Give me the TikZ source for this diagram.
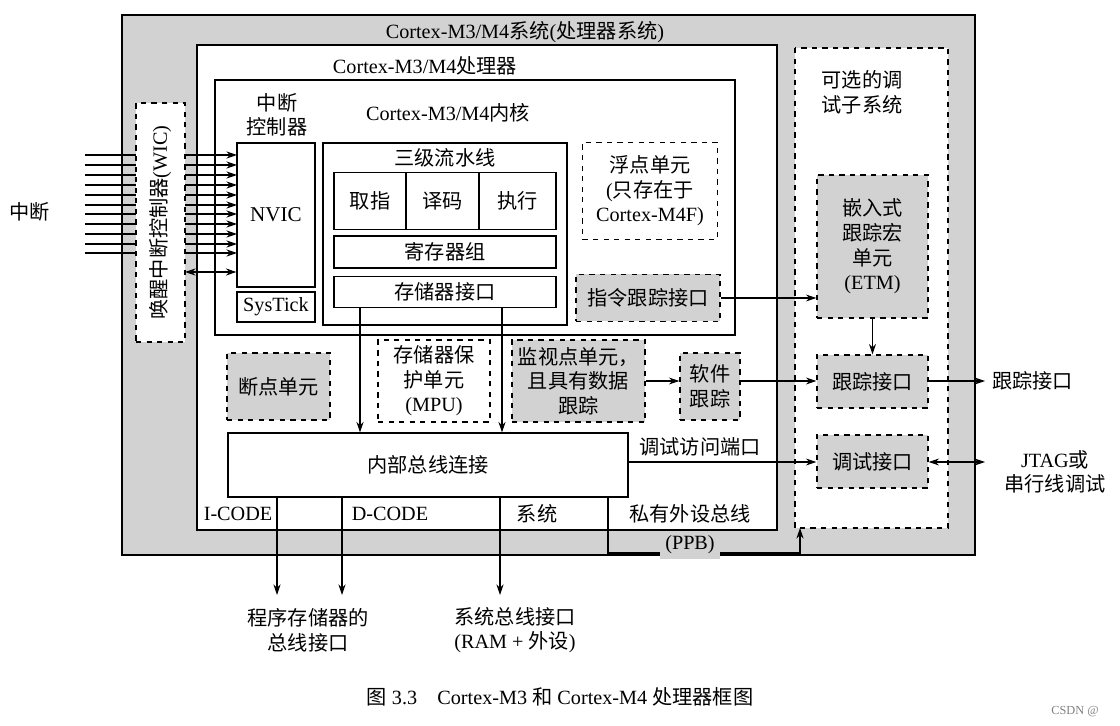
\documentclass[tikz,border=0pt]{standalone}
\usepackage{fontspec}
\setmainfont{Liberation Serif}
\newfontfamily\cjk{Noto Sans CJK SC}
\newcommand{\zh}[1]{{\cjk #1}}
\usetikzlibrary{arrows.meta}
\begin{document}
\begin{tikzpicture}[x=0.02cm,y=-0.02cm,
  every node/.style={font=\fontsize{11.5}{14}\selectfont, align=center, inner sep=1pt},
  bx/.style={draw, line width=0.6pt, fill=white},
  gbx/.style={draw, dashed, line width=0.7pt, fill=gray!35},
  wbx/.style={draw, dashed, line width=0.7pt, fill=white},
  arr/.style={-{Stealth[length=6pt,width=4pt]}, line width=0.6pt},
  darr/.style={{Stealth[length=6pt,width=4pt]}-{Stealth[length=6pt,width=4pt]}, line width=0.6pt}]
\useasboundingbox (0,0) rectangle (1120,726);
% outer
\draw[fill=gray!35, line width=0.6pt] (122,15) rectangle (975,555);
\node (systitle) at (525,32) {Cortex-M3/M4\zh{系统}(\zh{处理器系统})};
% processor
\draw[fill=white, line width=1.4pt] (197,45) rectangle (777,530);
\node (proctitle) at (425,66) {Cortex-M3/M4\zh{处理器}};
% debug subsystem
\draw[wbx] (795,48) rectangle (948,528);
\node (dbgtitle) at (862,92) {\zh{可选的调}\\\zh{试子系统}};
% core
\draw[bx] (215,80) rectangle (735,335);
\node (coretitle) at (448,113) {Cortex-M3/M4\zh{内核}};
\node (ictitle) at (277,115) {\zh{中断}\\\zh{控制器}};
\node[bx, minimum width=78*0.02cm, minimum height=144*0.02cm] (nvic) at (276,215) {\large NVIC};
\node[bx, minimum width=78*0.02cm, minimum height=30*0.02cm] (systick) at (276,307) {SysTick};
\draw[bx] (323,143) rectangle (567,325);
\node (pipe) at (445,158) {\zh{三级流水线}};
\node[bx, minimum width=72*0.02cm, minimum height=57*0.02cm] (fetch) at (370,201) {\zh{取指}};
\node[bx, minimum width=73*0.02cm, minimum height=57*0.02cm] (decode) at (442.5,201) {\zh{译码}};
\node[bx, minimum width=77*0.02cm, minimum height=57*0.02cm] (exec) at (517.5,201) {\zh{执行}};
\node[bx, minimum width=222*0.02cm, minimum height=32*0.02cm] (regs) at (445,252) {\zh{寄存器组}};
\node[bx, minimum width=222*0.02cm, minimum height=31*0.02cm] (memif) at (445,292) {\zh{存储器接口}};
\node[wbx, minimum width=135*0.02cm, minimum height=97*0.02cm] (fpu) at (650,191) {\zh{浮点单元}\\(\zh{只存在于}\\Cortex-M4F)};
\node[gbx, minimum width=144*0.02cm, minimum height=47*0.02cm] (itm) at (648,298) {\zh{指令跟踪接口}};
% interrupts
\foreach \y in {155,165,175,185,195,205,214,224,234,244,253}
  \draw[arr] (85,\y) -- (237,\y);
\node (irq) at (30,212) {\zh{中断}};
\node[wbx, minimum width=49*0.02cm, minimum height=239*0.02cm] (wic) at (160.5,222.5) {};
\node[rotate=90] (wictext) at (160.5,222.5) {\zh{唤醒中断控制器}(WIC)};
\coordinate (wicr) at (185,272);
\draw[darr] (wicr) -- (nvic.west |- wicr);
% middle row
\node[gbx, minimum width=103*0.02cm, minimum height=67*0.02cm] (bkpt) at (278.5,386.5) {\zh{断点单元}};
\node[wbx, minimum width=112*0.02cm, minimum height=82*0.02cm] (mpu) at (434,381) {\zh{存储器保}\\\zh{护单元}\\(MPU)};
\node[gbx, minimum width=133*0.02cm, minimum height=82*0.02cm] (dwt) at (578.5,381) {\zh{监视点单元}\zh{，}\\\zh{且具有数据}\\\zh{跟踪}};
\node[gbx, minimum width=60*0.02cm, minimum height=67*0.02cm] (swt) at (710,386.5) {\zh{软件}\\\zh{跟踪}};
% bus
\node[bx, minimum width=400*0.02cm, minimum height=64*0.02cm] (bus) at (428,465) {\zh{内部总线连接}};
\draw[arr] (memif.south -| 360,0) -- (bus.north -| 360,0);
\draw[arr] (memif.south -| 502,0) -- (bus.north -| 502,0);
\node (dap) at (700,447) {\zh{调试访问端口}};
% bottom labels
\foreach \x in {277,342,500,608} \draw[line width=0.6pt] (\x,497) -- (\x,530);
\node (icode) at (238,514) {I-CODE};
\node (dcode) at (390,514) {D-CODE};
\node (sysl) at (537,514) {\zh{系统}};
\node (ppbl) at (690,514) {\zh{私有外设总线}};
\coordinate (ia) at (277,595); \coordinate (da) at (342,595); \coordinate (sa) at (500,595);
\draw[arr] (277,497) -- (ia);
\draw[arr] (342,497) -- (da);
\draw[arr] (500,497) -- (sa);
\node (pmem) at (308,630) {\zh{程序存储器的}\\\zh{总线接口}};
\node (sbus) at (515,630) {\zh{系统总线接口}\\(RAM + \zh{外设})};
% PPB
\draw[arr] (608,530) -- (608,553) -- (800,553) -- (800,528);
\node[fill=gray!35, inner sep=3pt] (ppb) at (690,545) {(PPB)};
% debug subsystem parts
\node[gbx, minimum width=111*0.02cm, minimum height=143*0.02cm] (etm) at (872.5,246.5) {\zh{嵌入式}\\\zh{跟踪宏}\\\zh{单元}\\(ETM)};
\node[gbx, minimum width=111*0.02cm, minimum height=53*0.02cm] (tpiu) at (872.5,381.5) {\zh{跟踪接口}};
\node[gbx, minimum width=111*0.02cm, minimum height=53*0.02cm] (dbgif) at (872.5,461.5) {\zh{调试接口}};
\draw[arr] (itm.east) -- (etm.west |- itm.east);
\draw[arr] (etm.south) -- (tpiu.north);
\draw[arr] (dwt.east |- 0,381) -- (swt.west |- 0,381);
\draw[arr] (swt.east |- 0,381) -- (tpiu.west |- 0,381);
\draw[arr] (bus.east |- 0,462) -- (dbgif.west |- 0,462);
\coordinate (tout) at (985,381);
\coordinate (jout) at (985,462);
\draw[arr] (tpiu.east |- tout) -- (tout);
\draw[darr] (dbgif.east |- jout) -- (jout);
\node[anchor=west] (tl) at (990,381) {\zh{跟踪接口}};
\node (jtag) at (1055,472) {JTAG\zh{或}\\\zh{串行线调试}};
% caption
\node (cap) at (560,697) {\zh{图} 3.3\quad Cortex-M3 \zh{和} Cortex-M4 \zh{处理器框图}};
\node[font=\scriptsize, text=gray] (csdn) at (1075,712) {CSDN @};
\end{tikzpicture}
\end{document}
